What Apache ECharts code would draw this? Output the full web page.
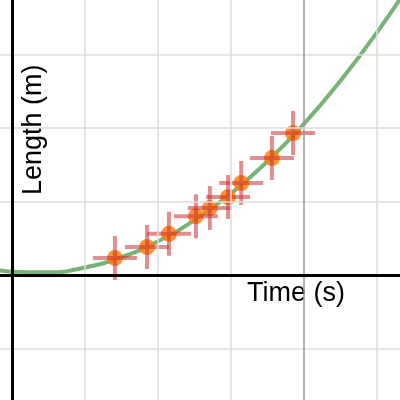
<!DOCTYPE html>
<html>
<head>
<meta charset="utf-8">
<script src="https://cdn.jsdelivr.net/npm/echarts@6/dist/echarts.min.js"></script>
<style>html,body{margin:0;padding:0;background:#fff}#chart{width:400px;height:400px}</style>
</head>
<body>
<div id="chart"></div>
<script>
// measured points
const timeValues = [1.41, 1.85, 2.15, 2.52, 2.71, 2.96, 3.14, 3.56, 3.85];
const lengthValues = [0.23, 0.38, 0.56, 0.80, 0.91, 1.06, 1.25, 1.59, 1.93];

// fitted curve
const curveX = [-0.2, 0, 0.5, 1, 1.5, 2, 2.5, 3, 3.5, 4, 4.5, 5, 5.5];
const curveY = [0.067, 0.043, 0.036, 0.103, 0.243, 0.458, 0.746, 1.109, 1.546, 2.056, 2.641, 3.299, 4.032];

// grid lines
const xGridTicks = [1, 2, 3, 5];
const yGridTicks = [-1, 1, 3];
const xDarkTicks = [4];
const yDarkTicks = [2];

const chart = echarts.init(document.getElementById('chart'));

const gridLines = [];
xGridTicks.forEach(v => gridLines.push({ xAxis: v, lineStyle: { color: '#dcdcdc', width: 1.5, type: 'solid' } }));
yGridTicks.forEach(v => gridLines.push({ yAxis: v, lineStyle: { color: '#dcdcdc', width: 1.5, type: 'solid' } }));
xDarkTicks.forEach(v => gridLines.push({ xAxis: v, lineStyle: { color: '#999', width: 1.5, type: 'solid' } }));
yDarkTicks.forEach(v => gridLines.push({ yAxis: v, lineStyle: { color: '#dcdcdc', width: 1.5, type: 'solid' } }));
gridLines.push({ xAxis: 0, lineStyle: { color: '#000', width: 3, type: 'solid' } });
gridLines.push({ yAxis: 0, lineStyle: { color: '#000', width: 3, type: 'solid' } });

const points = timeValues.map((t, i) => [t, lengthValues[i]]);
const plus = 'path://M0,9.1H20V10.9H0ZM9.1,0H10.9V9.1H9.1ZM9.1,10.9H10.9V20H9.1Z';

chart.setOption({
  animation: false,
  grid: { left: 0, right: 0, top: 0, bottom: 0 },
  xAxis: { type: 'value', min: -0.164, max: 5.315, show: false, splitLine: { show: false } },
  yAxis: { type: 'value', min: -1.70, max: 3.74, show: false, splitLine: { show: false } },
  series: [
    {
      type: 'line',
      data: [],
      markLine: { silent: true, symbol: 'none', label: { show: false }, data: gridLines },
      z: 1
    },
    {
      type: 'line',
      data: curveX.map((x, i) => [x, curveY[i]]),
      smooth: true,
      showSymbol: false,
      lineStyle: { color: '#5fa55f', width: 4, opacity: 0.85 },
      z: 2
    },
    {
      type: 'scatter',
      data: points,
      symbol: 'circle',
      symbolSize: 16,
      itemStyle: { color: '#ff7f0e', opacity: 0.85 },
      z: 3
    },
    {
      type: 'scatter',
      data: points,
      symbol: plus,
      symbolSize: 44,
      itemStyle: { color: '#c83232', opacity: 0.55 },
      z: 4
    }
  ],
  graphic: [
    { type: 'text', left: 247, top: 280, style: { text: 'Time (s)', font: '27px "Liberation Sans", Arial, sans-serif', fill: '#000' } },
    { type: 'text', x: 20, y: 195, rotation: Math.PI / 2, style: { text: 'Length (m)', font: '27px "Liberation Sans", Arial, sans-serif', fill: '#000', verticalAlign: 'top' } }
  ]
});
</script>
</body>
</html>
